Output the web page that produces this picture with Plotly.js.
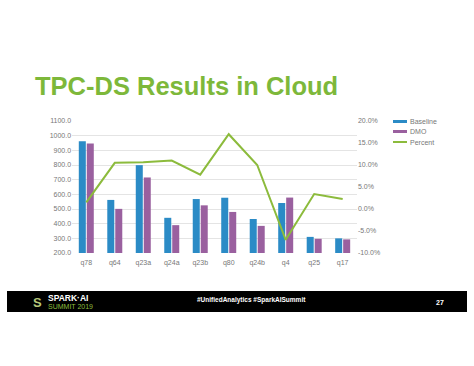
<!DOCTYPE html>
<html><head><meta charset="utf-8">
<script src="https://cdn.plot.ly/plotly-3.0.1.min.js"></script>
<style>html,body{margin:0;padding:0;background:#fff;}#chart{width:474px;height:366px;}</style>
</head><body><div id="chart"></div>
<script>
const categories = ["q78","q64","q23a","q24a","q23b","q80","q24b","q4","q25","q17"];
const baseline = [962, 562, 799, 440, 568, 577, 432, 541, 310, 300];
const dmo      = [946, 501, 715, 390, 525, 480, 385, 578, 297, 293];
const percent  = [1.5, 10.5, 10.6, 11.0, 7.8, 17.0, 10.0, -7.0, 3.4, 2.3];
const leftTicks = [200,300,400,500,600,700,800,900,1000,1100];
const rightTicks = [-10,-5,0,5,10,15,20];
const seriesNames = ["Baseline","DMO","Percent"];
const seriesColors = ["#2b8bc6","#9a609f","#8cbb3c"];

const FF = "Liberation Sans, Arial, sans-serif";
const tickFont = {family: FF, size: 7, color: "#777"};
const traces = [
  {type:"bar", name:seriesNames[0], x:categories, y:baseline, marker:{color:seriesColors[0]}},
  {type:"bar", name:seriesNames[1], x:categories, y:dmo, marker:{color:seriesColors[1]}},
  {type:"scatter", mode:"lines", name:seriesNames[2], x:categories, y:percent, yaxis:"y2",
   line:{color:seriesColors[2], width:2}}
];
const py = v => 1 - v/366;
const px = v => v/474;
const shapes = [
  {type:"rect", xref:"paper", yref:"paper", x0:px(7), x1:px(467), y0:py(312), y1:py(291),
   fillcolor:"#000", line:{width:0}, layer:"below"}
];
const annotations = [
  {text:"<b>TPC-DS Results in Cloud</b>", xref:"paper", yref:"paper", x:px(33), y:py(86),
   xanchor:"left", yanchor:"middle", showarrow:false,
   font:{family:FF, size:25.5, color:"#7db83a"}},
  {text:"<b>SPARK·AI</b>", xref:"paper", yref:"paper", x:px(46), y:py(298),
   xanchor:"left", yanchor:"middle", showarrow:false, font:{family:FF, size:8.5, color:"#fff"}},
  {text:"SUMMIT 2019", xref:"paper", yref:"paper", x:px(46), y:py(306),
   xanchor:"left", yanchor:"middle", showarrow:false, font:{family:FF, size:7, color:"#8cbb3c"}},
  {text:"<b>S</b>", xref:"paper", yref:"paper", x:px(31), y:py(302),
   xanchor:"left", yanchor:"middle", showarrow:false, font:{family:FF, size:13, color:"#b7c77a"}},
  {text:"<b>#UnifiedAnalytics #SparkAISummit</b>", xref:"paper", yref:"paper", x:px(251), y:py(300),
   xanchor:"center", yanchor:"middle", showarrow:false, font:{family:FF, size:6.5, color:"#fff"}},
  {text:"<b>27</b>", xref:"paper", yref:"paper", x:px(440), y:py(302),
   xanchor:"center", yanchor:"middle", showarrow:false, font:{family:FF, size:7, color:"#fff"}}
];
const legendY = [121.5, 131.5, 142];
seriesNames.forEach((n,i) => {
  shapes.push({type:"line", xref:"paper", yref:"paper", x0:px(393), x1:px(407), y0:py(legendY[i]), y1:py(legendY[i]),
    line:{color:seriesColors[i], width: i<2 ? 3 : 2}});
  annotations.push({text:n, xref:"paper", yref:"paper", x:px(408), y:py(legendY[i]),
    xanchor:"left", yanchor:"middle", showarrow:false, font:{family:FF, size:7, color:"#777"}});
});
const layout = {
  width:474, height:366, margin:{l:0,r:0,t:0,b:0},
  paper_bgcolor:"#fff", plot_bgcolor:"#fff",
  showlegend:false,
  barmode:"group", bargap:0.44, bargroupgap:0.12,
  font:{family:FF},
  xaxis:{domain:[0.152,0.753], tickfont:tickFont, showgrid:false, showline:false, ticks:"", ticklabelstandoff:4},
  yaxis:{domain:[0.3087,0.6694], range:[200,1100], tickvals:leftTicks,
         ticktext:leftTicks.map(v=>v.toFixed(1)), tickfont:tickFont,
         gridcolor:"#e4e4e4", gridwidth:1, zeroline:false, showline:false, ticks:""},
  yaxis2:{overlaying:"y", side:"right", range:[-10,20], tickvals:rightTicks,
          ticktext:rightTicks.map(v=>v.toFixed(1)+"%"), tickfont:tickFont,
          showgrid:false, zeroline:false, showline:false, ticks:""},
  shapes: shapes,
  annotations: annotations
};
Plotly.newPlot("chart", traces, layout, {staticPlot:true, displayModeBar:false});
</script></body></html>
